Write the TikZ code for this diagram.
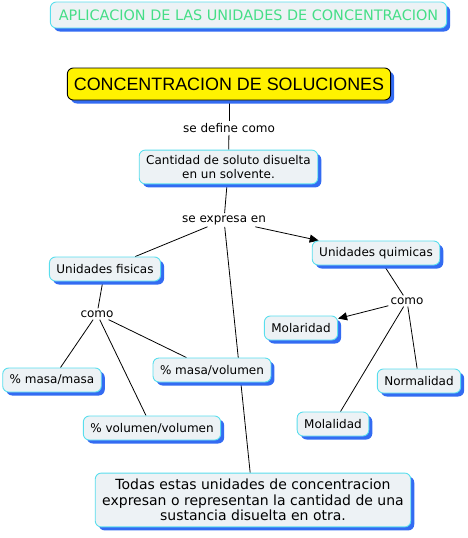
\documentclass[tikz,border=0pt]{standalone}
\usepackage{fontspec}
\setmainfont{DejaVu Sans}
\newfontfamily\arialfont{Liberation Sans}
\usetikzlibrary{shadows,backgrounds,arrows.meta}
\definecolor{pale}{rgb}{0.93, 0.95, 0.96}
\definecolor{rim}{rgb}{0.35, 0.87, 0.93}
\definecolor{shade}{rgb}{0.2, 0.42, 0.95}
\definecolor{mint}{rgb}{0.27, 0.87, 0.53}

\begin{document}
\begin{tikzpicture}[x=1pt, y=-1pt,
  concept/.style={draw=rim, fill=pale, rounded corners=6pt, line width=0.9pt,
    inner xsep=7pt, inner ysep=5pt, minimum height=24pt, align=center,
    font=\fontsize{12}{14.5}\selectfont,
    drop shadow={shadow xshift=3.5pt, shadow yshift=-3.5pt, fill=shade, opacity=1}},
  phrase/.style={inner sep=2pt, font=\fontsize{12}{14.5}\selectfont},
  conn/.style={line width=0.8pt},
  connarrow/.style={conn, -{Triangle[length=9pt, width=8pt]}}]
\useasboundingbox (0, 0) rectangle (468, 538);
\node [concept, text=mint, minimum height=26pt, inner xsep=8.5pt,
  font=\fontsize{14.4}{16}\selectfont] (aplicacion) at (248.5, 15)
  {APLICACION DE LAS UNIDADES DE CONCENTRACION};
\node [concept, draw=black, fill=yellow, minimum height=32pt, inner xsep=6.5pt,
  font=\arialfont\fontsize{17.9}{20}\selectfont] (main) at (229, 84)
  {CONCENTRACION DE SOLUCIONES};
\node [phrase] (sedefine) at (229, 128) {se define como};
\node [concept] (cantidad) at (228.5, 167) {Cantidad de soluto disuelta\\en un solvente.};
\node [phrase] (seexpresa) at (224, 220) {se expresa en};
\node [concept] (fisicas) at (105, 269) {Unidades fisicas};
\node [concept] (quimicas) at (376, 253) {Unidades quimicas};
\node [phrase] (comoL) at (97, 314) {como};
\node [phrase] (comoR) at (407, 301) {como};
\node [concept] (masamasa) at (52, 380) {\% masa/masa};
\node [concept] (masavol) at (212, 370) {\% masa/volumen};
\node [concept] (volvol) at (152, 428) {\% volumen/volumen};
\node [concept] (molaridad) at (301, 328) {Molaridad};
\node [concept] (normalidad) at (419, 381) {Normalidad};
\node [concept] (molalidad) at (333, 424) {Molalidad};
\node [concept, inner ysep=6pt, font=\fontsize{14}{15.5}\selectfont] (todas) at (253, 500)
  {Todas estas unidades de concentracion\\expresan o representan la cantidad de una\\sustancia disuelta en otra.};
% links
\begin{scope}[on background layer]
\draw [conn] (main) -- (sedefine);
\draw [conn] (sedefine) -- (cantidad);
\draw [conn] (cantidad) -- (seexpresa);
\draw [conn] (seexpresa) -- (fisicas);
\draw [conn] (seexpresa) -- (todas);
\draw [connarrow] (seexpresa) -- (quimicas);
\draw [conn] (fisicas) -- (comoL);
\draw [conn] (comoL) -- (masamasa);
\draw [conn] (comoL) -- (masavol);
\draw [conn] (comoL) -- (volvol);
\draw [conn] (quimicas) -- (comoR);
\draw [connarrow] (comoR) -- (molaridad);
\draw [conn] (comoR) -- (normalidad);
\draw [conn] (comoR) -- (molalidad);
\end{scope}
\end{tikzpicture}
\end{document}
